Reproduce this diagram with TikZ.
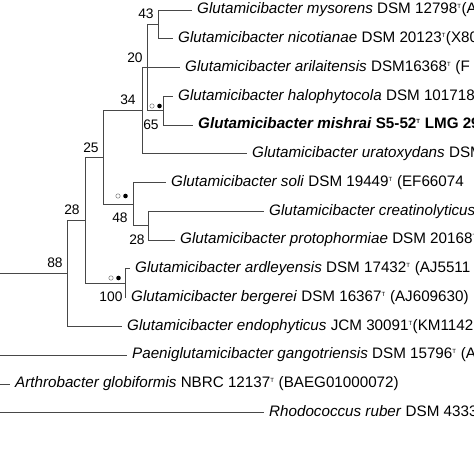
\documentclass[tikz,border=0pt]{standalone}
\usepackage{fontspec}
\setmainfont{Liberation Sans}
\newcommand{\typ}{\textsuperscript{\fontsize{6}{6}\selectfont T}}

\begin{document}
\begin{tikzpicture}[x=1pt, y=-1pt]
\tikzset{
  leaf/.style={anchor=west, inner xsep=5pt, inner ysep=0pt,
    font=\fontsize{15.2}{15}\selectfont, text height=10.5pt, text depth=3pt},
  boot/.style={inner sep=0pt, font=\fontsize{13.8}{14}\selectfont},
  branch/.style={line width=0.9pt, draw=black!72},
  open dot/.style={draw=black!55, line width=0.5pt, fill=white},
}
\useasboundingbox (0,0) rectangle (474,474);
\clip (0,0) rectangle (474,474);

% internal nodes of the tree
\coordinate (root) at (-2, 273.4);
\coordinate (n88) at (67, 273.4);
\coordinate (n28) at (85, 220.4);
\coordinate (n25) at (103, 157.4);
\coordinate (n34) at (142, 110.7);
\coordinate (n20) at (147, 67.5);
\coordinate (n43) at (158, 24.4);
\coordinate (n65) at (163, 110.7);
\coordinate (n48) at (133, 204.2);
\coordinate (n28b) at (148, 225.8);
\coordinate (n100) at (125, 283.3);
\coordinate (r13) at (-2, 355.2);
\coordinate (r14) at (-2, 384.0);
\coordinate (r15) at (-2, 412.8);

% leaves
\node[leaf] (mys) at (192, 10.0) {\textit{Glutamicibacter mysorens} DSM 12798\typ(A};
\node[leaf] (nic) at (173, 38.8) {\textit{Glutamicibacter nicotianae} DSM 20123\typ(X80};
\node[leaf] (ari) at (180, 67.5) {\textit{Glutamicibacter arilaitensis} DSM16368\typ{} (F};
\node[leaf] (hal) at (173, 96.3) {\textit{Glutamicibacter halophytocola} DSM 101718};
\node[leaf] (mis) at (193, 125.1) {\bfseries\textit{Glutamicibacter mishrai} S5-52\typ{} LMG 29};
\node[leaf] (ura) at (247, 153.9) {\textit{Glutamicibacter uratoxydans} DSM};
\node[leaf] (sol) at (166, 182.6) {\textit{Glutamicibacter soli} DSM 19449\typ{} (EF66074};
\node[leaf] (cre) at (264, 211.4) {\textit{Glutamicibacter creatinolyticus}};
\node[leaf] (pro) at (175, 240.2) {\textit{Glutamicibacter protophormiae} DSM 20168\typ};
\node[leaf] (ard) at (130, 268.9) {\textit{Glutamicibacter ardleyensis} DSM 17432\typ{} (AJ5511};
\node[leaf] (ber) at (126, 297.7) {\textit{Glutamicibacter bergerei} DSM 16367\typ{} (AJ609630)};
\node[leaf] (end) at (122, 326.5) {\textit{Glutamicibacter endophyticus} JCM 30091\typ(KM1142};
\node[leaf] (pae) at (127, 355.2) {\textit{Paeniglutamicibacter gangotriensis} DSM 15796\typ{} (A};
\node[leaf] (art) at (10, 384.0) {\textit{Arthrobacter globiformis} NBRC 12137\typ{} (BAEG01000072)};
\node[leaf] (rho) at (264, 412.8) {\textit{Rhodococcus ruber} DSM 4333};

% branches
\draw[branch] (root) -- (n88);
\draw[branch] (n88) |- (n28);
\draw[branch] (n88) |- (end.west);
\draw[branch] (n28) |- (n25);
\draw[branch] (n28) |- (n100);
\draw[branch] (n25) |- (n34);
\draw[branch] (n25) |- (n48);
\draw[branch] (n34) |- (ari.west);
\draw[branch] (n34) |- (ura.west);
\draw[branch] (n34) |- (n20);
\draw[branch] (n20) |- (n43);
\draw[branch] (n20) |- (n65);
\draw[branch] (n43) |- (mys.west);
\draw[branch] (n43) |- (nic.west);
\draw[branch] (n65) |- (hal.west);
\draw[branch] (n65) |- (mis.west);
\draw[branch] (n48) |- (sol.west);
\draw[branch] (n48) |- (n28b);
\draw[branch] (n28b) |- (cre.west);
\draw[branch] (n28b) |- (pro.west);
\draw[branch] (n100) |- (ard.west);
\draw[branch] (n100) |- (ber.west);
\draw[branch] (r13) -- (pae.west);
\draw[branch] (r14) -- (art.west);
\draw[branch] (r15) -- (rho.west);

% bootstrap values
\node[boot] (b43) at (146, 14) {43};
\node[boot] (b20) at (135, 58) {20};
\node[boot] (b34) at (128, 100) {34};
\node[boot] (b65) at (151, 125) {65};
\node[boot] (b25) at (91, 148) {25};
\node[boot] (b48) at (120, 218) {48};
\node[boot] (b28b) at (137, 240) {28};
\node[boot] (b28) at (72, 210) {28};
\node[boot] (b88) at (55, 263) {88};
\node[boot] (b100) at (111, 297) {100};

% nodes also recovered by other methods
\draw[open dot] (152, 106) circle (2.2pt);
\fill[black] (159.5, 106) circle (2.3pt);
\draw[open dot] (118, 196) circle (2.2pt);
\fill[black] (125.5, 196) circle (2.3pt);
\draw[open dot] (111, 278) circle (2.2pt);
\fill[black] (118.5, 278) circle (2.3pt);
\end{tikzpicture}
\end{document}
